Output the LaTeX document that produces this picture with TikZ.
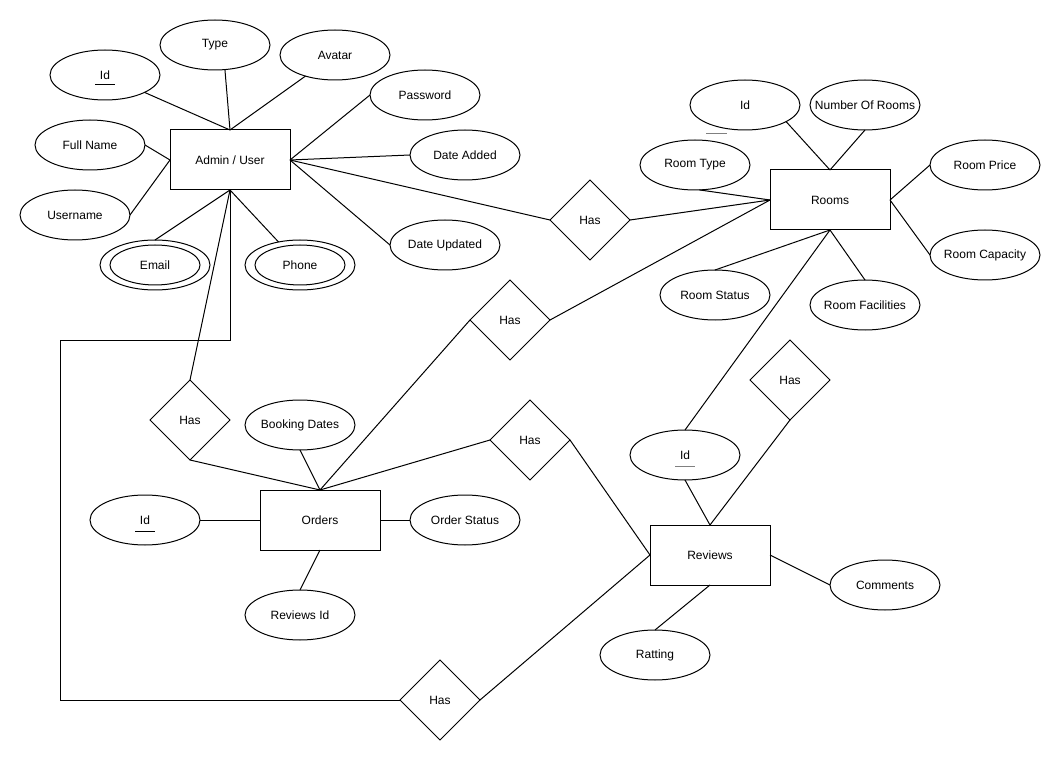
\documentclass[tikz,border=0pt]{standalone}
\usepackage{fontspec}
\setmainfont{Liberation Sans}
\usetikzlibrary{shapes.geometric}
\newcommand{\zt}[1]{\makebox[0pt][c]{#1}}
\begin{document}
\begin{tikzpicture}[x=1pt,y=-1pt,line width=1pt,
  lbl/.style={font=\fontsize{12}{14}\selectfont},
  attr/.style={lbl,ellipse,draw,minimum width=110pt,minimum height=50pt,inner sep=0pt,outer sep=0pt},
  inell/.style={lbl,ellipse,draw,minimum width=90pt,minimum height=40pt,inner sep=0pt,outer sep=0pt},
  ent/.style={lbl,rectangle,draw,minimum width=120pt,minimum height=60pt,inner sep=0pt,outer sep=0pt},
  rel/.style={lbl,diamond,draw,aspect=1,minimum width=80pt,minimum height=80pt,inner sep=0pt,outer sep=0pt},
  keyline/.style={line width=1pt},
  greyline/.style={line width=1pt,draw=gray}]
\useasboundingbox (0,0) rectangle (1061,762);

% Admin / User
\node[ent] (admin) at (230,160) {Admin / User};
\node[attr] (aid) at (105,75) {\zt{Id}};
\node[attr] (atype) at (215,45) {\zt{Type}};
\node[attr] (aavatar) at (335,55) {\zt{Avatar}};
\node[attr] (apass) at (425,95) {\zt{Password}};
\node[attr] (afull) at (90,145) {\zt{Full Name}};
\node[attr] (auser) at (75,215) {\zt{Username}};
\node[attr] (aadded) at (465,155) {\zt{Date Added}};
\node[attr] (aupd) at (445,245) {\zt{Date Updated}};
\node[attr] (aemail) at (155,265) {};
\node[inell] (aemailin) at (155,265) {\zt{Email}};
\node[attr] (aphone) at (300,265) {};
\node[inell] (aphonein) at (300,265) {\zt{Phone}};

% Rooms
\node[ent] (rooms) at (830,200) {Rooms};
\node[attr] (rid) at (745,105) {\zt{Id}};
\node[attr] (rnum) at (865,105) {\zt{Number Of Rooms}};
\node[attr] (rtype) at (695,165) {\zt{Room Type}};
\node[attr] (rprice) at (985,165) {\zt{Room Price}};
\node[attr] (rcap) at (985,255) {\zt{Room Capacity}};
\node[attr] (rstat) at (715,295) {\zt{Room Status}};
\node[attr] (rfac) at (865,305) {\zt{Room Facilities}};

% Orders
\node[ent] (orders) at (320,520) {Orders};
\node[attr] (oid) at (145,520) {\zt{Id}};
\node[attr] (ostat) at (465,520) {\zt{Order Status}};
\node[attr] (obook) at (300,425) {\zt{Booking Dates}};
\node[attr] (orev) at (300,615) {\zt{Reviews Id}};

% Reviews
\node[ent] (reviews) at (710,555) {Reviews};
\node[attr] (vid) at (685,455) {\zt{Id}};
\node[attr] (vcom) at (885,585) {\zt{Comments}};
\node[attr] (vrat) at (655,655) {\zt{Ratting}};

% Relationships
\node[rel] (h1) at (590,220) {Has};
\node[rel] (h2) at (510,320) {Has};
\node[rel] (h3) at (790,380) {Has};
\node[rel] (h4) at (190,420) {Has};
\node[rel] (h5) at (530,440) {Has};
\node[rel] (h6) at (440,700) {Has};

% Admin connectors
\draw (admin.north) -- (aid);
\draw (admin.north) -- (atype.-68);
\draw (admin.north) -- (aavatar);
\draw (admin.east) -- (apass.west);
\draw (admin.east) -- (aadded.west);
\draw (admin.east) -- (aupd.west);
\draw (admin.east) -- (h1.west);
\draw (admin.west) -- (afull.east);
\draw (admin.west) -- (auser.east);
\draw (admin.south) -- (aemail.north);
\draw (admin.south) -- (aphone);
\draw (admin.south) -- (h4.north);
\coordinate (bend) at (60,340);
\draw (admin.south) |- (bend) |- (h6.west);

% Rooms connectors
\draw (rooms.north) -- (rid.-22);
\draw (rooms.north) -- (rnum.south);
\draw (rooms.west) -- (rtype.-80);
\draw (rooms.west) -- (h1.east);
\draw (rooms.west) -- (h2.east);
\draw (rooms.east) -- (rprice.west);
\draw (rooms.east) -- (rcap.west);
\draw (rooms.south) -- (rstat.north);
\draw (rooms.south) -- (rfac.north);
\draw (rooms.south) -- (vid.north);

% Orders connectors
\draw (orders.north) -- (h4.south);
\draw (orders.north) -- (obook.south);
\draw (orders.north) -- (h2.west);
\draw (orders.north) -- (h5.west);
\draw (orders.west) -- (oid.east);
\draw (orders.east) -- (ostat.west);
\draw (orders.south) -- (orev.north);

% Reviews connectors
\draw (h5.east) -- (reviews.west);
\draw (h6.east) -- (reviews.west);
\draw (reviews.north) -- (vid.south);
\draw (reviews.north) -- (h3.south);
\draw (reviews.east) -- (vcom.west);
\draw (reviews.south) -- (vrat.north);

% key underlines
\draw[keyline] (95,85) -- (115,85);
\draw[keyline] (135,531) -- (155,531);
\draw[greyline] (706,134) -- (727,134);
\draw[greyline] (675,466) -- (695,466);
\end{tikzpicture}
\end{document}
